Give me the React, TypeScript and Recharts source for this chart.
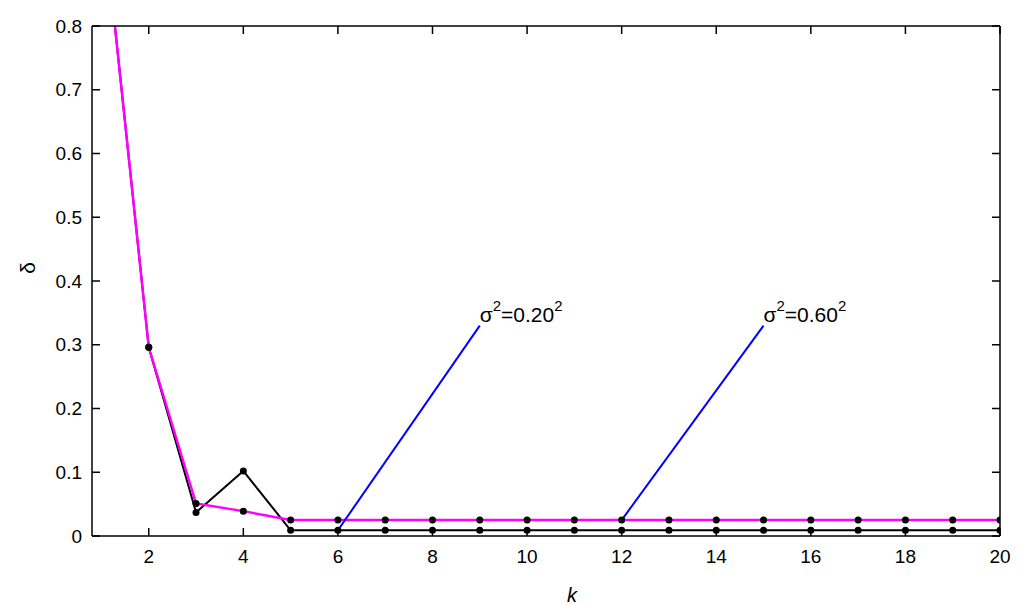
import {
  Label,
  Line,
  LineChart,
  ReferenceDot,
  ReferenceLine,
  XAxis,
  YAxis,
} from "recharts";

const kValues = [1, 2, 3, 4, 5, 6, 7, 8, 9, 10, 11, 12, 13, 14, 15, 16, 17, 18, 19, 20];
// sigma^2 = 0.20^2 (black) and sigma^2 = 0.60^2 (magenta)
const deltaLow = [
  1.0, 0.296, 0.037, 0.102, 0.009, 0.009, 0.009, 0.009, 0.009, 0.009, 0.009,
  0.009, 0.009, 0.009, 0.009, 0.009, 0.009, 0.009, 0.009, 0.009,
];
const deltaHigh = [
  1.0, 0.296, 0.051, 0.039, 0.025, 0.025, 0.025, 0.025, 0.025, 0.025, 0.025,
  0.025, 0.025, 0.025, 0.025, 0.025, 0.025, 0.025, 0.025, 0.025,
];
const xTicks = [2, 4, 6, 8, 10, 12, 14, 16, 18, 20];
const yTicks = [0, 0.1, 0.2, 0.3, 0.4, 0.5, 0.6, 0.7, 0.8];
const annotations = [
  { k1: 6, d1: 0.009, k2: 9, d2: 0.33, sigma: "0.20" },
  { k1: 12, d1: 0.025, k2: 15, d2: 0.33, sigma: "0.60" },
];

const data = kValues.map((k, i) => ({
  k,
  low: deltaLow[i],
  high: deltaHigh[i],
}));

const FONT = "'Liberation Sans', Arial, Helvetica, sans-serif";

function SigmaLabel(props: any) {
  const { viewBox, sigma } = props;
  const x = viewBox.x;
  const y = viewBox.y - 4;
  return (
    <text x={x} y={y} fontSize={21} fontFamily={FONT} fill="#000">
      <tspan>σ</tspan>
      <tspan dy={-11} fontSize={15}>
        2
      </tspan>
      <tspan dy={11}>={sigma}</tspan>
      <tspan dy={-11} fontSize={15}>
        2
      </tspan>
    </text>
  );
}

function XLabel(props: any) {
  const { viewBox } = props;
  const x = viewBox.x + viewBox.width / 2 + 26;
  const y = viewBox.y + viewBox.height - 3;
  return (
    <text x={x} y={y} fontSize={20} fontFamily={FONT} fontStyle="italic" textAnchor="middle" fill="#000">
      k
    </text>
  );
}

function YLabel(props: any) {
  const { viewBox } = props;
  const x = viewBox.x + 35;
  const y = viewBox.y + viewBox.height / 2 - 13;
  return (
    <text
      x={x}
      y={y}
      fontSize={21}
      fontFamily={FONT}
      textAnchor="middle"
      fill="#000"
      transform={`rotate(-90, ${x}, ${y})`}
    >
      δ
    </text>
  );
}

function BottomTick(props: any) {
  const { x, y, payload } = props;
  return (
    <text x={x} y={y} dy="0.71em" textAnchor="middle" fontSize={19} fontFamily={FONT} fill="#000">
      {payload.value}
    </text>
  );
}

function LeftTick(props: any) {
  const { x, y, payload } = props;
  const v = payload.value as number;
  return (
    <text x={x} y={y} dy="0.355em" textAnchor="end" fontSize={19} fontFamily={FONT} fill="#000">
      {v === 0 ? "0" : v.toFixed(1)}
    </text>
  );
}

const axisLine = { stroke: "#000", strokeWidth: 1.5 };
const tickLine = { stroke: "#000", strokeWidth: 1.5 };

function App() {
  return (
    <div>
      <style>{`body { margin: 0; background: #fff; }`}</style>
      <LineChart
        width={1024}
        height={605}
        data={data}
        margin={{ top: 25, right: 23, bottom: 0, left: 0 }}
      >
        <XAxis
          dataKey="k"
          type="number"
          domain={[0.8, 20]}
          ticks={xTicks}
          allowDataOverflow
          height={69}
          tickSize={-8}
          tickMargin={22}
          tick={<BottomTick />}
          axisLine={axisLine}
          tickLine={tickLine}
        >
          <Label content={<XLabel />} />
        </XAxis>
        <XAxis
          xAxisId="top"
          orientation="top"
          dataKey="k"
          type="number"
          domain={[0.8, 20]}
          ticks={xTicks}
          allowDataOverflow
          height={1}
          tickSize={-8}
          tickFormatter={() => ""}
          axisLine={axisLine}
          tickLine={tickLine}
        />
        <YAxis
          type="number"
          domain={[0, 0.8]}
          ticks={yTicks}
          allowDataOverflow
          width={92}
          tickSize={-8}
          tickMargin={18}
          tick={<LeftTick />}
          axisLine={axisLine}
          tickLine={tickLine}
        >
          <Label content={<YLabel />} />
        </YAxis>
        <YAxis
          yAxisId="right"
          orientation="right"
          type="number"
          domain={[0, 0.8]}
          ticks={yTicks}
          allowDataOverflow
          width={1}
          tickSize={-8}
          tickFormatter={() => ""}
          axisLine={axisLine}
          tickLine={tickLine}
        />
        <Line
          type="linear"
          dataKey="low"
          stroke="#000"
          strokeWidth={2}
          dot={{ r: 3.5, fill: "#000", stroke: "none" }}
          isAnimationActive={false}
        />
        <Line
          type="linear"
          dataKey="high"
          stroke="#ff00ff"
          strokeWidth={2.5}
          dot={{ r: 3.5, fill: "#000", stroke: "none" }}
          isAnimationActive={false}
        />
        {annotations.map((a) => (
          <ReferenceLine
            key={`line-${a.sigma}`}
            segment={[
              { x: a.k1, y: a.d1 },
              { x: a.k2, y: a.d2 },
            ]}
            stroke="#0000ff"
            strokeWidth={2}
          />
        ))}
        {annotations.map((a) => (
          <ReferenceDot
            key={`dot-${a.sigma}`}
            x={a.k2}
            y={a.d2}
            r={0}
            stroke="none"
            fill="none"
            label={<SigmaLabel sigma={a.sigma} />}
          />
        ))}
      </LineChart>
    </div>
  );
}

export default App;
